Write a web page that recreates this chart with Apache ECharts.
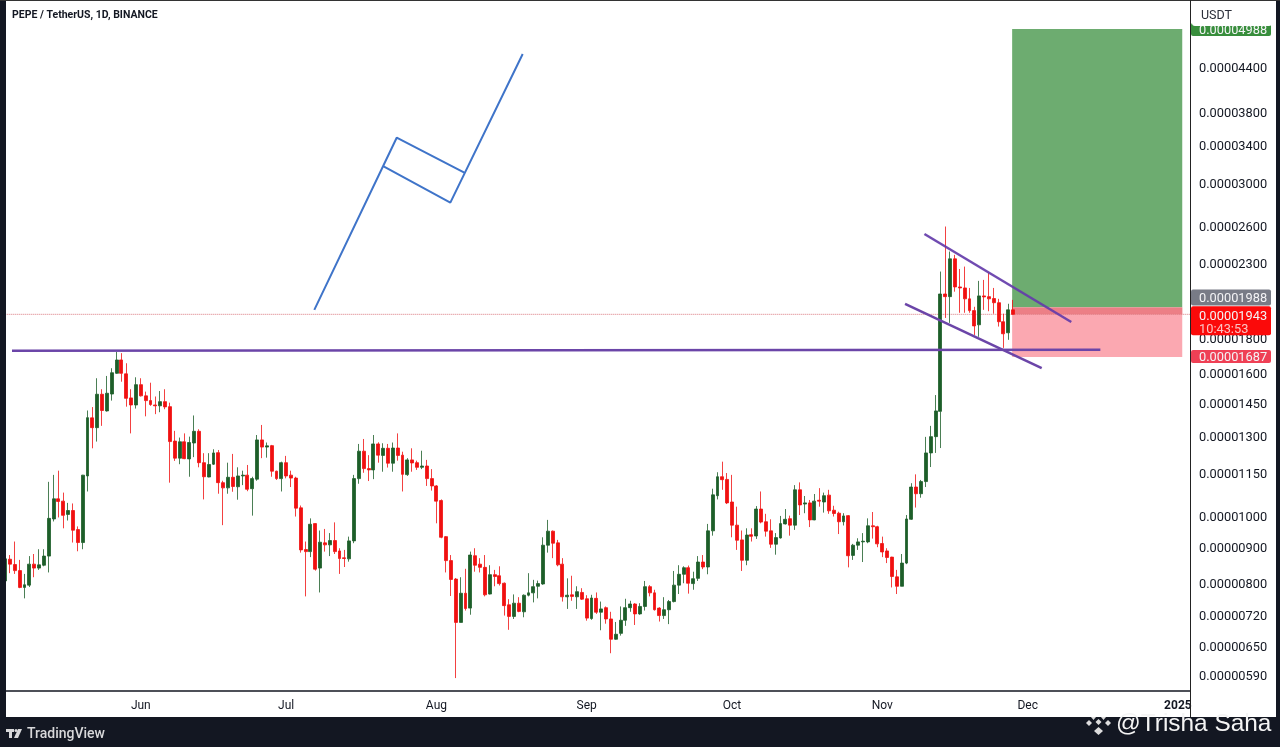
<!DOCTYPE html>
<html>
<head>
<meta charset="utf-8">
<title>PEPE / TetherUS</title>
<script src="https://cdn.jsdelivr.net/npm/echarts@6/dist/echarts.min.js"></script>
<style>
	html, body { margin: 0; padding: 0; background: #131722; }
	#chart { width: 1280px; height: 747px; }
</style>
</head>
<body>
<div id="chart"></div>
<script>
// prices are kept in 1e-8 USDT, so 1943 is 0.00001943
var opens = [
	805,865,850,833,788,794,851,840,848,874,
	988,1056,1048,1003,1016,954,914,1139,1380,1336,
	1492,1412,1493,1599,1671,1596,1474,1440,1540,1484,
	1461,1440,1436,1456,1432,1278,1208,1275,1205,1270,
	1320,1190,1135,1184,1230,1114,1095,1134,1099,1139,
	1142,1092,1127,1283,1253,1259,1157,1129,1190,1142,
	1131,1025,893,887,973,840,913,907,920,889,
	869,866,919,1129,1236,1167,1162,1266,1219,1248,
	1188,1249,1220,1144,1201,1190,1172,1177,1129,1102,
	1050,932,861,810,702,773,736,875,851,842,
	771,822,819,799,744,716,748,727,768,774,
	791,797,906,949,913,851,764,769,764,775,
	759,711,760,726,737,710,664,677,707,737,
	746,722,740,790,774,736,718,732,752,794,
	823,841,798,812,857,843,950,1067,1136,1126,
	1045,968,922,862,938,934,1021,979,950,909,
	928,972,989,968,1088,1038,1042,985,1051,1045,
	1069,1017,1007,979,999,876,906,916,916,966,
	963,911,889,871,816,791,854,987,1098,1074,
	1118,1229,1297,1410,2078,2060,2334,2127,2120,2045,
	1967,1877,2065,2060,2047,2019,1896,1828,1972
];
var closes = [
	866,851,833,788,795,851,840,849,874,990,
	1056,1047,1000,1016,952,914,1142,1381,1336,1492,
	1414,1497,1602,1671,1599,1472,1440,1540,1484,1461,
	1442,1436,1456,1431,1276,1208,1275,1206,1272,1320,
	1190,1136,1183,1229,1114,1095,1134,1100,1139,1142,
	1090,1129,1283,1253,1258,1157,1129,1190,1139,1131,
	1024,892,887,971,837,915,907,920,887,867,
	867,919,1129,1236,1167,1162,1266,1220,1248,1188,
	1249,1219,1145,1201,1189,1172,1177,1129,1102,1048,
	930,861,809,702,773,735,877,848,842,769,
	822,817,798,742,716,748,728,768,774,790,
	798,906,949,912,849,764,768,765,777,758,
	712,761,726,734,710,664,675,707,737,746,
	722,740,790,774,732,718,732,752,794,823,
	841,799,811,857,843,950,1070,1136,1125,1042,
	968,921,862,937,933,1021,978,949,909,929,
	973,987,968,1088,1035,1042,985,1048,1048,1067,
	1015,1006,979,998,875,906,916,918,966,963,
	910,886,870,817,791,854,988,1098,1074,1118,
	1229,1297,1412,2078,2060,2334,2127,2120,2045,1967,
	1870,2065,2058,2045,2019,1896,1822,1972,1943
];
var lows = [
	800,826,824,786,760,789,815,835,845,828,
	980,993,958,983,914,888,894,1082,1248,1276,
	1344,1409,1461,1596,1555,1432,1311,1423,1481,1387,
	1436,1397,1406,1420,1114,1197,1184,1204,1136,1212,
	1172,1054,1134,1181,1074,968,1074,1081,1053,1105,
	1083,999,1121,1208,1210,1136,1124,1082,1130,1098,
	996,884,765,871,833,775,887,874,880,824,
	843,858,912,1110,1151,1120,1127,1190,1155,1171,
	1155,1198,1082,1139,1155,1162,1165,1102,1085,974,
	927,828,766,584,702,730,720,830,828,765,
	770,791,793,718,685,710,726,714,765,750,
	760,795,884,868,845,752,734,754,734,756,
	706,708,722,684,699,634,663,672,694,727,
	696,720,730,765,730,704,710,698,750,771,
	799,772,782,805,837,823,935,1054,1088,1038,
	930,892,832,848,917,925,974,932,898,878,
	926,970,935,953,1001,1007,962,984,1029,1009,
	1005,996,940,967,842,863,892,857,912,926,
	900,871,854,788,771,791,851,985,1026,1060,
	1098,1173,1229,1249,1920,1889,2094,1953,1953,1953,
	1815,1804,1972,1963,1947,1866,1739,1786,1940
];
var highs = [
	877,877,917,863,824,874,880,894,894,1117,
	1143,1159,1078,1042,1040,964,1143,1414,1430,1573,
	1517,1585,1626,1716,1709,1653,1517,1578,1573,1505,
	1550,1481,1508,1517,1451,1322,1293,1311,1297,1391,
	1329,1228,1228,1244,1241,1121,1190,1225,1172,1159,
	1181,1136,1304,1348,1272,1262,1159,1194,1217,1159,
	1136,1033,917,990,974,951,956,943,977,897,
	892,932,1143,1266,1287,1220,1304,1273,1269,1266,
	1272,1311,1234,1208,1248,1198,1238,1201,1165,1105,
	1054,934,877,813,815,838,887,897,868,877,
	848,835,845,801,758,770,763,770,826,808,
	806,930,985,951,922,868,812,819,791,786,
	768,769,775,752,740,727,703,740,759,754,
	748,748,805,794,782,738,763,756,832,848,
	845,847,830,874,877,972,1092,1153,1194,1150,
	1143,1029,951,958,958,1031,1082,1005,987,943,
	998,1021,999,1105,1115,1066,1052,1073,1094,1078,
	1088,1032,1012,1007,1001,910,927,943,990,1011,
	966,932,897,872,835,880,1001,1112,1145,1124,
	1296,1344,1488,2238,2597,2391,2365,2257,2275,2120,
	1992,2170,2177,2230,2120,2045,1947,2012,2038
];

// x axis: slot numbers, month labels sit on the first day of the month
var slotCount = 245;
var monthSlots = [28, 58, 89, 120, 150, 181, 211, 242];
var monthLabels = ['Jun', 'Jul', 'Aug', 'Sep', 'Oct', 'Nov', 'Dec', '2025'];

// y axis
var priceTicks = [4400, 3800, 3400, 3000, 2600, 2300, 1800, 1600, 1450, 1300, 1150, 1000, 900, 800, 720, 650, 590];
var priceMin = 559.6;
var priceMax = 5472;

// drawings, [slot, price]
var flagLineA = [[63.8, 1972], [80.8, 3483], [94.76, 3103]];
var flagLineB = [[78.0, 3172], [91.87, 2810], [106.8, 4593]];
var levelLine = [[1.42, 1722], [226, 1728]];
var channelTop = [[189.7, 2534], [220, 1894]];
var channelBottom = [[185.7, 2012], [213.9, 1626]];

// long position box
var positionSlots = [207.8, 242.9];
var targetPrice = 4988;
var entryPrice = 1988;
var lastPrice = 1943;
var stopPrice = 1687;
var countdownText = '10:43:53';
var tagPrices = [targetPrice, entryPrice, stopPrice, lastPrice];

var DARK = '#131722';
var FONT = 'Roboto, "Liberation Sans", sans-serif';
var gridRight = 1190;

var formatPrice = function(v){
	return (v * 1e-8).toFixed(8);
};

var candles = [];
for (var i = 0; i < opens.length; i++) {
	candles.push([opens[i], closes[i], lows[i], highs[i]]);
}
var categories = [];
for (var c = 0; c < slotCount; c++) {
	categories.push(String(c));
}

var drawing = function(points, color, width, z, dash){
	return {
		type: 'line',
		xAxisIndex: 1,
		data: points,
		symbol: 'none',
		silent: true,
		z: z,
		lineStyle: {color: color, width: width, type: dash || 'solid'}
	};
};

//price scale labels are drawn from the axis scale, the log axis ignores customValues
var renderTick = function(params, api){
	var p = api.coord([api.value(0), api.value(1)]);
	return {
		type: 'text',
		x: gridRight + 9,
		y: p[1] + 2,
		style: {
			text: formatPrice(api.value(1)),
			fill: '#131722',
			font: '12.8px ' + FONT,
			textAlign: 'left',
			textVerticalAlign: 'middle'
		}
	};
};

//top and height of each tag relative to its price
var tagBoxes = [
	{dy: -6, h: 13, fill: '#388e3c', two: false},
	{dy: -18, h: 16, fill: '#787b86', two: false},
	{dy: -7, h: 13, fill: '#ef4055', two: false},
	{dy: -8, h: 29, fill: '#fb0a0a', two: true}
];
var renderTag = function(params, api){
	var p = api.coord([api.value(0), api.value(1)]);
	var box = tagBoxes[params.dataIndex];
	var children = [{
		type: 'rect',
		shape: {x: gridRight + 1, y: p[1] + box.dy, width: 80, height: box.h, r: 2},
		style: {fill: box.fill}
	}, {
		type: 'text',
		x: gridRight + 9,
		y: p[1] + box.dy + (box.two ? 10 : box.h / 2 + 1),
		style: {
			text: formatPrice(api.value(1)),
			fill: '#f4f4f6',
			font: '12.8px ' + FONT,
			textAlign: 'left',
			textVerticalAlign: 'middle'
		}
	}];
	if (box.two) {
		children.push({
			type: 'text',
			x: gridRight + 9,
			y: p[1] + box.dy + 23,
			style: {
				text: countdownText,
				fill: '#fbc4c4',
				font: '12.8px ' + FONT,
				textAlign: 'left',
				textVerticalAlign: 'middle'
			}
		});
	}
	return {type: 'group', children: children};
};

var myChart = echarts.init(document.getElementById('chart'));

var option = {
	animation: false,
	backgroundColor: '#ffffff',
	grid: {left: 2.7, top: 1, right: 90, bottom: 56, containLabel: false},
	xAxis: [{
		type: 'category',
		data: categories,
		boundaryGap: true,
		axisLine: {lineStyle: {color: '#131722', width: 1.5}},
		axisTick: {show: false},
		splitLine: {show: false},
		axisLabel: {
			color: '#131722',
			fontFamily: FONT,
			fontSize: 12,
			margin: 9,
			interval: function(index){
				return monthSlots.indexOf(index) >= 0;
			},
			formatter: function(value, index){
				var label = monthLabels[monthSlots.indexOf(index)];
				return label === '2025' ? '{year|2025}' : label;
			},
			rich: {year: {fontWeight: 'bold', fontFamily: FONT, fontSize: 12, color: '#131722'}}
		}
	}, {
		// same slots as the category axis, but drawings can sit between two candles
		type: 'value',
		show: false,
		min: -0.5,
		max: slotCount - 0.5
	}],
	yAxis: [{
		type: 'log',
		logBase: 10,
		min: priceMin,
		max: priceMax,
		position: 'right',
		axisLine: {show: false},
		axisTick: {show: false},
		axisLabel: {show: false},
		splitLine: {show: false}
	}],
	series: [{
		// long position box under the candles
		type: 'line',
		xAxisIndex: 1,
		data: [],
		silent: true,
		z: 1,
		markArea: {
			silent: true,
			data: [
				[{xAxis: positionSlots[0], yAxis: targetPrice, itemStyle: {color: '#6dac70', opacity: 1}},
				 {xAxis: positionSlots[1], yAxis: entryPrice}],
				[{xAxis: positionSlots[0], yAxis: entryPrice, itemStyle: {color: '#fba8b1', opacity: 1}},
				 {xAxis: positionSlots[1], yAxis: stopPrice}],
				[{xAxis: positionSlots[0], yAxis: entryPrice, itemStyle: {color: '#ec7f86', opacity: 1}},
				 {xAxis: positionSlots[1], yAxis: lastPrice}]
			]
		}
	}, {
		type: 'candlestick',
		data: candles,
		barWidth: 3.4,
		z: 3,
		itemStyle: {
			color: '#1d5e29',
			color0: '#f01010',
			borderColor: '#1d5e29',
			borderColor0: '#f01010',
			borderWidth: 0.8
		}
	},
	drawing([[-0.5, lastPrice], [slotCount - 0.5, lastPrice]], '#d9777d', 1, 2, 'dotted'),
	drawing(flagLineA, '#3f74c9', 2, 4),
	drawing(flagLineB, '#3f74c9', 2, 4),
	drawing(levelLine, '#6b45a8', 2.5, 5),
	drawing(channelTop, 'rgba(100,60,170,0.92)', 2.5, 5),
	drawing(channelBottom, '#6b45a8', 2.5, 5),
	{
		type: 'custom',
		xAxisIndex: 1,
		silent: true,
		z: 10,
		clip: false,
		encode: {x: 0, y: 1},
		data: priceTicks.map(function(v){ return [slotCount - 0.5, v]; }),
		renderItem: renderTick
	}, {
		type: 'custom',
		xAxisIndex: 1,
		silent: true,
		z: 20,
		clip: false,
		encode: {x: 0, y: 1},
		data: tagPrices.map(function(v){ return [slotCount - 0.5, v]; }),
		renderItem: renderTag
	}],
	graphic: [
		// frame around the chart
		{type: 'rect', z: 100, shape: {x: 0, y: 0, width: 6, height: 747}, style: {fill: DARK}},
		{type: 'rect', z: 100, shape: {x: 1276, y: 0, width: 4, height: 747}, style: {fill: DARK}},
		{type: 'rect', z: 100, shape: {x: 0, y: 717, width: 1280, height: 30}, style: {fill: DARK}},
		{type: 'rect', z: 100, shape: {x: 0, y: 0, width: 1280, height: 1}, style: {fill: '#333'}},
		{type: 'rect', z: 100, shape: {x: 1190, y: 0, width: 1, height: 717}, style: {fill: '#222'}},
		// chart title and currency
		{type: 'text', z: 100, x: 12, y: 10, style: {text: 'PEPE / TetherUS, 1D, BINANCE', fill: '#131722', font: '700 10.5px ' + FONT}},
		{type: 'rect', z: 90, shape: {x: 1192, y: 4, width: 80, height: 22, r: 3}, style: {fill: '#ffffff'}},
		{type: 'text', z: 100, x: 1201, y: 9, style: {text: 'USDT', fill: '#2a2e39', font: '12.5px ' + FONT}},
		// footer logo
		{type: 'rect', z: 101, shape: {x: 6, y: 729, width: 8, height: 3}, style: {fill: '#d8d8da'}},
		{type: 'rect', z: 101, shape: {x: 9, y: 729, width: 3, height: 9}, style: {fill: '#d8d8da'}},
		{type: 'circle', z: 101, shape: {cx: 16, cy: 730.5, r: 1.5}, style: {fill: '#d8d8da'}},
		{type: 'polygon', z: 101, shape: {points: [[18, 729], [22, 729], [18, 738], [14, 738]]}, style: {fill: '#d8d8da'}},
		{type: 'text', z: 101, x: 27, y: 727, style: {text: 'TradingView', fill: '#d8d8da', font: '500 14px ' + FONT}},
		// watermark
		{type: 'polygon', z: 101, shape: {points: [[1091, 717], [1096, 717], [1093.5, 720]]}, style: {fill: '#dddddd'}},
		{type: 'polygon', z: 101, shape: {points: [[1101, 717], [1106, 717], [1103.5, 720]]}, style: {fill: '#dddddd'}},
		{type: 'polygon', z: 101, shape: {points: [[1098.5, 719], [1101.5, 722], [1098.5, 725], [1095.5, 722]]}, style: {fill: '#dddddd'}},
		{type: 'polygon', z: 101, shape: {points: [[1089, 720], [1092, 723], [1089, 726], [1086, 723]]}, style: {fill: '#dddddd'}},
		{type: 'polygon', z: 101, shape: {points: [[1108, 720], [1111, 723], [1108, 726], [1105, 723]]}, style: {fill: '#dddddd'}},
		{type: 'polygon', z: 101, shape: {points: [[1098.5, 727], [1103, 731], [1098.5, 735], [1094, 731]]}, style: {fill: '#dddddd'}},
		{type: 'text', z: 101, x: 1116, y: 712, style: {text: '@Trisha Saha', fill: '#f4f4f4', font: '24.4px "Liberation Sans", sans-serif'}}
	]
};
myChart.setOption(option);
</script>
</body>
</html>
